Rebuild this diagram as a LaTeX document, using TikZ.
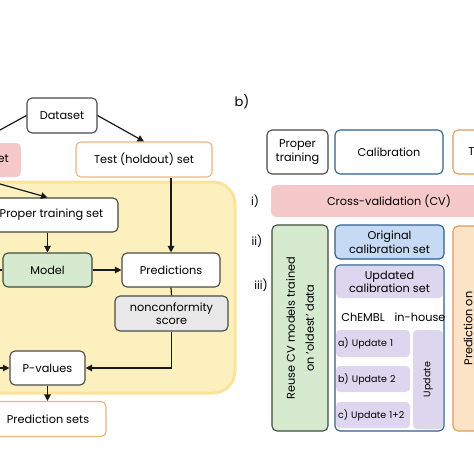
\documentclass[tikz,border=0pt]{standalone}
\usepackage{fontspec}
\setmainfont{Poppins}
\usetikzlibrary{positioning,calc,arrows.meta}
\definecolor{ink}{HTML}{1a1a1a}
\definecolor{edge}{HTML}{4a4a4a}
\definecolor{moss}{HTML}{3f4b3d}
\definecolor{navy}{HTML}{2f5d8c}
\definecolor{amber}{HTML}{e9b57c}
\definecolor{rust}{HTML}{dd9d58}
\definecolor{blush}{HTML}{f5c9ca}
\definecolor{sprout}{HTML}{d6eacf}
\definecolor{sky}{HTML}{c6daf3}
\definecolor{lilac}{HTML}{dcd7ef}
\definecolor{ash}{HTML}{e8e8e8}
\definecolor{butter}{HTML}{fdf0bf}
\definecolor{butteredge}{HTML}{fbe39c}
\definecolor{peach}{HTML}{fce3c6}

\tikzset{
  box/.style={draw=#1,fill=white,line width=1.1pt,rounded corners=5pt,
    align=center,inner sep=2pt,font=\fontsize{11.3}{13.5}\selectfont},
  box/.default=edge,
  band/.style={fill=#1,rounded corners=5pt,inner sep=2pt,
    font=\fontsize{11.3}{13.5}\selectfont},
  sub/.style={fill=lilac,rounded corners=4pt,inner sep=2pt,
    font=\fontsize{9.5}{11}\selectfont},
  flow/.style={-{Triangle[length=6.5pt,width=6.5pt]},line width=1.2pt,ink},
  wire/.style={line width=1.2pt,ink},
  tag/.style={font=\fontsize{11.3}{13.5}\selectfont},
}

\begin{document}
\begin{tikzpicture}[x=1pt,y=-1pt]

  \useasboundingbox (0,0) rectangle (474,474);
  \fill[white] (0,0) rectangle (474,474);
  \clip (0,0) rectangle (474,474);

  % ---------------------------------------------------------------- PANEL A
  % yellow calibration region
  \draw[fill=butter,draw=butteredge,line width=3pt,rounded corners=22pt]
    (-40,182) rectangle (235,393);

  \node[box,minimum width=70,minimum height=35] (data) at (62,115.5) {Dataset};
  \node[band=blush,minimum width=90,minimum height=34] (train) at (-24,160) {Training set};
  \node[box=amber,minimum width=136,minimum height=35] (test) at (144,159.5) {Test (holdout) set};
  \node[box=moss,minimum width=133,minimum height=34] (ptrain) at (51.5,215) {Proper training set};
  \node[box=moss,fill=sprout,minimum width=89,minimum height=34] (model) at (47.5,270) {Model};
  \node[box,minimum width=98,minimum height=34] (pred) at (171,270) {Predictions};
  \node[box,fill=ash,minimum width=113,minimum height=35,
        font=\fontsize{11.3}{12.5}\selectfont] (ncs) at (171.5,313.5) {nonconformity\\score};
  \node[box,minimum width=75,minimum height=34] (pval) at (47.5,368) {P-values};
  \node[box=amber,minimum width=116,minimum height=35] (psets) at (48,419) {Prediction sets};

  % free ends at the left border
  \coordinate (inA) at (0,130);
  \coordinate (inB) at (0,184);
  \coordinate (inC) at (0,270);
  \coordinate (inD) at (0,368);

  \draw[wire] (data.west) -- (inA);
  \draw[flow] (data.east) -- (test.north);
  \draw[flow] (inB) -- (model.north |- ptrain.north);
  \draw[flow] (model.north |- ptrain.south) -- (model.north);
  \draw[wire] (inC) -- (model.west);
  \draw[flow] (model.east) -- (pred.west);
  \draw[flow] (pred.north |- test.south) -- (pred.north);
  \draw[wire] (pred.south) -- (ncs.north);
  \draw[flow] (ncs.south) |- (pval.east);
  \draw[flow] (inD) -- (pval.west);
  \draw[flow] (pval.south) -- (pval.south |- psets.north);

  % ---------------------------------------------------------------- PANEL B
  \node[font=\fontsize{13}{15}\selectfont] (blabel) at (242,102) {b)};

  \node[box=moss,minimum width=61,minimum height=44] (rtrain) at (297.5,152) {Proper\\training};
  \node[box=navy,minimum width=108,minimum height=44] (rcal) at (389,152) {Calibration};
  \node[box=rust,minimum width=54,minimum height=44] (rtest) at (480,152) {Test};

  \node[band=blush,minimum width=236,minimum height=32] (cv) at (389,201) {Cross-validation (CV)};

  \node[tag] (li) at (255,201) {i)};
  \node[tag] (lii) at (257,241) {ii)};
  \node[tag] (liii) at (261,285) {iii)};

  % reuse column
  \node[box=moss,fill=sprout,rotate=90,minimum width=206,minimum height=56,
        font=\fontsize{11.3}{19}\selectfont] (reuse) at (300,328)
        {Reuse CV models trained\\on `oldest' data};

  % calibration column
  \node[box=navy,fill=sky,minimum width=109,minimum height=34] (orig) at (389.5,242)
        {Original\\calibration set};
  \node[box=navy,minimum width=109,minimum height=166] (upd) at (389.5,348) {};
  \node[band=lilac,rounded corners=4pt,minimum width=107,minimum height=32,align=center]
        (updhead) at (389.5,282) {Updated\\calibration set};
  \node[tag] (chembl) at (363,317) {ChEMBL};
  \node[tag] (inhouse) at (420,317) {in-house};
  \node[sub,text width=70,align=left,minimum height=27] (upa) at (373,343.5) {a) Update 1};
  \node[sub,text width=70,align=left,minimum height=26] (upb) at (373,379) {b) Update 2};
  \node[sub,text width=70,align=left,minimum height=26] (upc) at (373,415) {c) Update 1+2};
  \node[sub,rotate=90,minimum width=99,minimum height=30] (updv) at (428,379.5) {Update};

  % prediction column
  \node[box=rust,fill=peach,rotate=90,minimum width=205,minimum height=56] (pon) at (481,328.5) {};
  \node[tag,rotate=90,anchor=north,inner sep=11pt] (pontext) at (pon.north) {Prediction on};

\end{tikzpicture}
\end{document}
